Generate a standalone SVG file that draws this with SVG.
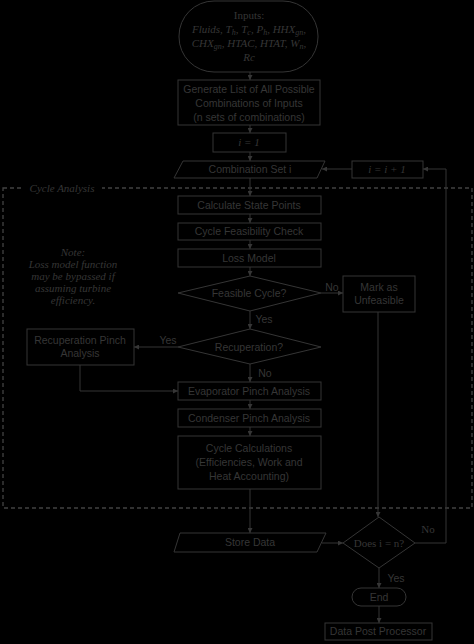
<svg xmlns="http://www.w3.org/2000/svg" width="474" height="644" viewBox="0 0 474 644">
<defs>
<marker id="ah" viewBox="0 0 8 8" refX="8" refY="4" markerWidth="5" markerHeight="5" orient="auto" markerUnits="userSpaceOnUse">
<path d="M0,0 L8,4 L0,8 z" fill="#363636"/>
</marker>
<style>
.n{fill:none;stroke:#353535;stroke-width:1}
.t{font-family:"Liberation Sans",Arial,sans-serif;font-size:10.5px;fill:#363636;text-anchor:middle}
.s{font-family:"Liberation Serif","Times New Roman",serif;font-size:11px;fill:#363636;text-anchor:middle}
.i{font-style:italic}
.c{fill:none;stroke:#353535;stroke-width:1;marker-end:url(#ah)}
</style>
</defs>
<rect width="474" height="644" fill="#000"/>

<g id="cycle-analysis">
<rect x="3" y="188" width="469" height="320" fill="none" stroke="#424242" stroke-width="1.3" stroke-dasharray="4,3"/>
<rect x="24" y="181" width="78" height="14" fill="#000"/>
<text class="s i" x="62" y="192" font-size="11.5">Cycle Analysis</text>
</g>

<g id="connectors">
<path class="c" d="M250,72 V80"/>
<path class="c" d="M250,125 V133"/>
<path class="c" d="M250,152 V161"/>
<path class="c" d="M250,178 V196"/>
<path class="c" d="M250,214 V223"/>
<path class="c" d="M250,240 V249"/>
<path class="c" d="M250,267 V276"/>
<path class="c" d="M321,293 H343"/>
<path class="c" d="M250,311 V329"/>
<path class="c" d="M178,347 H134"/>
<path class="c" d="M250,364 V382"/>
<path class="c" d="M80,365 V391 H178"/>
<path class="c" d="M250,400 V409"/>
<path class="c" d="M250,427 V436"/>
<path class="c" d="M250,489 V533"/>
<path class="c" d="M322,543 H343"/>
<path class="c" d="M378,312 V517"/>
<path class="c" d="M415,543 H446 V169 H423"/>
<path class="c" d="M352,169 H322"/>
<path class="c" d="M379,568 V588"/>
<path class="c" d="M379,606 V623"/>
<text class="t" x="332" y="291">No</text>
<text class="t" x="264" y="323">Yes</text>
<text class="t" x="168" y="344">Yes</text>
<text class="t" x="265" y="377">No</text>
<text class="s" x="428" y="533">No</text>
<text class="t" x="396" y="582">Yes</text>
</g>

<g id="inputs">
<rect class="n" x="179" y="1" width="139" height="71" rx="35" ry="35"/>
<text class="s" x="249" y="19">Inputs:</text>
<text class="s i" x="249" y="33">Fluids, T<tspan font-size="8" dy="2">h</tspan><tspan dy="-2">, T</tspan><tspan font-size="8" dy="2">c</tspan><tspan dy="-2">, P</tspan><tspan font-size="8" dy="2">h</tspan><tspan dy="-2">, HHX</tspan><tspan font-size="8" dy="2">gn</tspan><tspan dy="-2">,</tspan></text>
<text class="s i" x="249" y="47">CHX<tspan font-size="8" dy="2">gn</tspan><tspan dy="-2">, HTAC, HTAT, W</tspan><tspan font-size="8" dy="2">n</tspan><tspan dy="-2">,</tspan></text>
<text class="s i" x="249" y="61">Rc</text>
</g>

<g id="generate">
<rect class="n" x="178" y="80" width="142" height="45"/>
<text class="t" x="249" y="93">Generate List of All Possible</text>
<text class="t" x="249" y="107">Combinations of Inputs</text>
<text class="t" x="249" y="121">(n sets of combinations)</text>
</g>

<g id="init">
<rect class="n" x="213" y="133" width="73" height="19"/>
<text class="s i" x="249" y="146">i = 1</text>
</g>

<g id="combination-set">
<polygon class="n" points="183,161 325,161 317,178 174,178"/>
<text class="t" x="250" y="173">Combination Set i</text>
</g>

<g id="increment">
<rect class="n" x="352" y="161" width="71" height="17"/>
<text class="s i" x="387" y="173">i = i + 1</text>
</g>

<g id="state-points">
<rect class="n" x="178" y="196" width="143" height="18"/>
<text class="t" x="249" y="209">Calculate State Points</text>
</g>

<g id="feasibility-check">
<rect class="n" x="178" y="223" width="143" height="17"/>
<text class="t" x="249" y="235">Cycle Feasibility Check</text>
</g>

<g id="loss-model">
<rect class="n" x="178" y="249" width="143" height="18"/>
<text class="t" x="249" y="262">Loss Model</text>
</g>

<g id="feasible">
<polygon class="n" points="250,276 321,293 250,311 178,293"/>
<text class="t" x="249" y="297">Feasible Cycle?</text>
</g>

<g id="unfeasible">
<rect class="n" x="343" y="276" width="72" height="36"/>
<text class="t" x="379" y="291">Mark as</text>
<text class="t" x="379" y="304">Unfeasible</text>
</g>

<g id="note">
<text class="s i" x="73" y="256" font-size="10">Note:</text>
<text class="s i" x="73" y="268" font-size="10">Loss model function</text>
<text class="s i" x="73" y="280" font-size="10">may be bypassed if</text>
<text class="s i" x="73" y="292" font-size="10">assuming turbine</text>
<text class="s i" x="73" y="304" font-size="10">efficiency.</text>
</g>

<g id="recuperation">
<polygon class="n" points="250,329 321,347 250,364 178,347"/>
<text class="t" x="249" y="351">Recuperation?</text>
</g>

<g id="recuperation-pinch">
<rect class="n" x="27" y="329" width="107" height="36"/>
<text class="t" x="80" y="344">Recuperation Pinch</text>
<text class="t" x="80" y="357">Analysis</text>
</g>

<g id="evaporator">
<rect class="n" x="178" y="382" width="143" height="18"/>
<text class="t" x="249" y="395">Evaporator Pinch Analysis</text>
</g>

<g id="condenser">
<rect class="n" x="178" y="409" width="143" height="18"/>
<text class="t" x="249" y="422">Condenser Pinch Analysis</text>
</g>

<g id="cycle-calculations">
<rect class="n" x="178" y="436" width="143" height="53"/>
<text class="t" x="249" y="452">Cycle Calculations</text>
<text class="t" x="249" y="466">(Efficiencies, Work and</text>
<text class="t" x="249" y="480">Heat Accounting)</text>
</g>

<g id="store-data">
<polygon class="n" points="180,533 326,533 317,552 174,552"/>
<text class="t" x="250" y="546">Store Data</text>
</g>

<g id="does-i-n">
<polygon class="n" points="379,517 415,543 379,568 343,543"/>
<text class="s" x="379" y="547">Does i = n?</text>
</g>

<g id="end">
<rect class="n" x="352" y="588" width="54" height="18" rx="9" ry="9"/>
<text class="t" x="379" y="601">End</text>
</g>

<g id="post-processor">
<rect class="n" x="325" y="623" width="107" height="17"/>
<text class="t" x="378" y="635">Data Post Processor</text>
</g>
</svg>
